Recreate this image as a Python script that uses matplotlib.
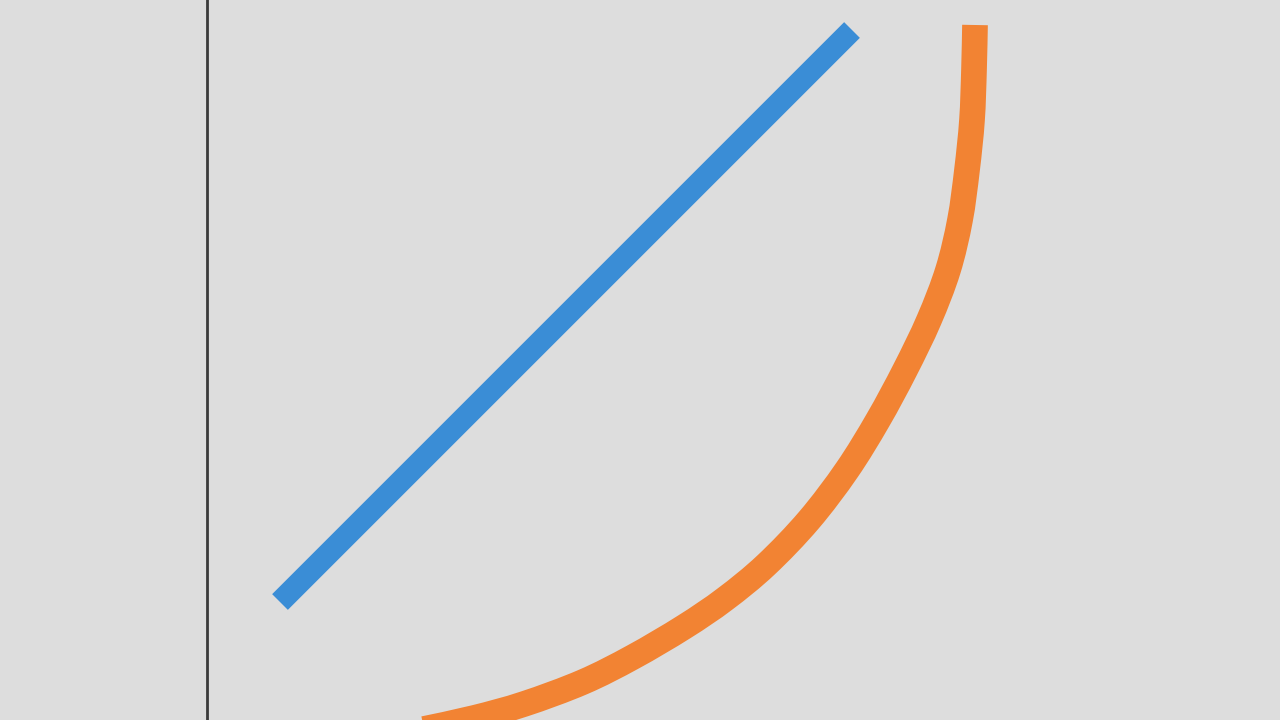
import matplotlib
matplotlib.use("Agg")
import matplotlib.pyplot as plt
import numpy as np
from matplotlib.path import Path
from matplotlib.patches import PathPatch

# Values (x to the right of the axis line, y upward)
blue_x = [73, 645]
blue_y = [118, 690]

orange_x = [768, 767, 765, 760, 753, 741, 722, 698, 671, 640, 602, 559, 518, 477, 426, 376, 317, 267, 217]
orange_y = [695, 650, 600, 550, 500, 450, 400, 350, 300, 250, 200, 155, 121, 93, 63, 38, 16, 2, -9]

BG = "#dddddd"
fig = plt.figure(figsize=(12.8, 7.2), dpi=100, facecolor=BG)
ax = fig.add_axes([207 / 1280, 0, 1 - 207 / 1280, 1], facecolor=BG)
ax.set_xlim(0, 1073)
ax.set_ylim(0, 720)
for s in ["top", "right", "bottom"]:
    ax.spines[s].set_visible(False)
ax.spines["left"].set_color("#3a3a3a")
ax.spines["left"].set_linewidth(2.0)
ax.set_xticks([])
ax.set_yticks([])

ax.plot(blue_x, blue_y, color="#3a8dd6", linewidth=16, solid_capstyle="butt")


def smooth_path(xs, ys):
    """Catmull-Rom curve through the read points, drawn as cubic Bezier segments."""
    p = np.column_stack([xs, ys]).astype(float)
    n = len(p)
    verts = [p[0]]
    codes = [Path.MOVETO]
    for i in range(n - 1):
        p0 = p[i - 1] if i > 0 else p[i]
        p1 = p[i]
        p2 = p[i + 1]
        p3 = p[i + 2] if i + 2 < n else p[i + 1]
        c1 = p1 + (p2 - p0) / 6.0
        c2 = p2 - (p3 - p1) / 6.0
        verts += [c1, c2, p2]
        codes += [Path.CURVE4] * 3
    return Path(verts, codes)


patch = PathPatch(smooth_path(orange_x, orange_y), facecolor="none",
                  edgecolor="#f28333", linewidth=18.5, capstyle="butt",
                  joinstyle="round", transform=ax.transData)
ax.add_patch(patch)

fig.savefig("out.png", dpi=100, facecolor=BG)
